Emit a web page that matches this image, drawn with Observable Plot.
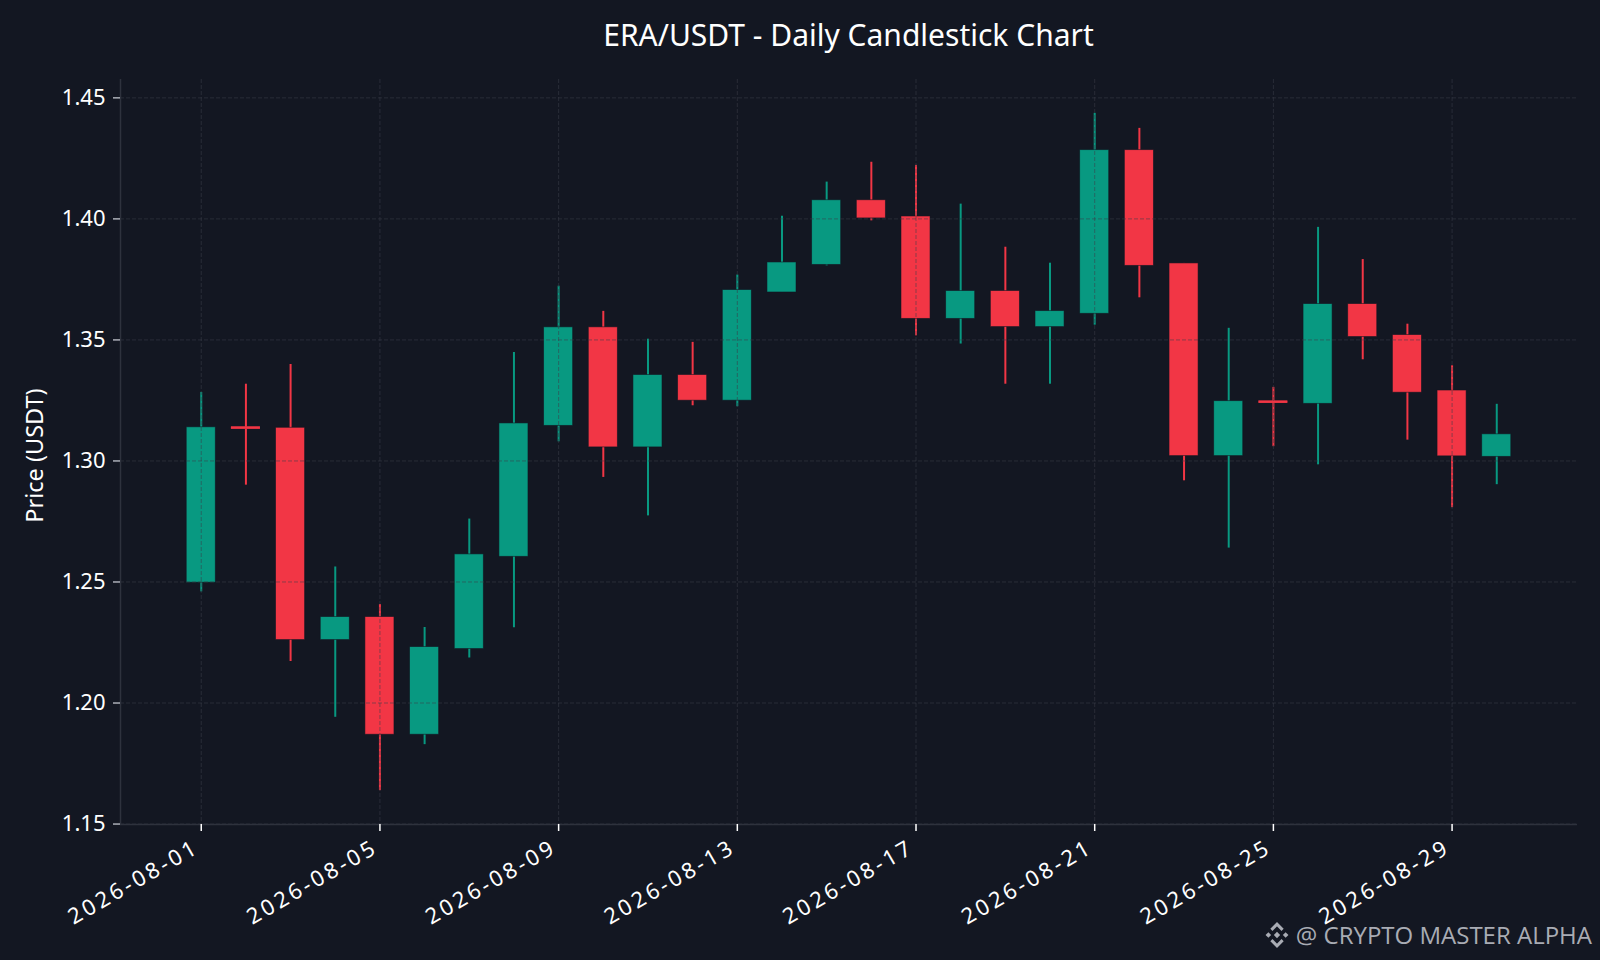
<!DOCTYPE html>
<html>
<head>
<meta charset="utf-8">
<script src="https://cdn.jsdelivr.net/npm/d3@7"></script>
<script src="https://cdn.jsdelivr.net/npm/@observablehq/plot@0.6"></script>
<style>
  html, body { margin: 0; padding: 0; background: #131722; }
  #wrap { position: relative; width: 1600px; height: 960px; background: #131722; overflow: hidden; font-family: "Noto Sans", sans-serif; }
  #title { position: absolute; left: 120px; width: 1457px; top: 0; height: 69px; line-height: 69px; text-align: center; color: #ffffff; font-size: 30px; }
  #chart { position: absolute; left: 0; top: 72px; }
  #wm { position: absolute; right: 8px; top: 921px; height: 28px; line-height: 1; font-family: "Open Sans", sans-serif; font-size: 24px; color: #a9acb4; display: flex; align-items: center; gap: 5px; white-space: nowrap; }
  #wm svg { display: block; }
  .xlab text { letter-spacing: 3.2px; }
</style>
</head>
<body>
<div id="wrap">
  <div id="title">ERA/USDT - Daily Candlestick Chart</div>
  <div id="chart"></div>
  <div id="wm">
    <svg width="28" height="28" viewBox="0 0 24 24">
      <g fill="#a9acb4">
        <polygon points="12,9.3 14.7,12 12,14.7 9.3,12"/>
        <polygon points="4.6,9.6 7,12 4.6,14.4 2.2,12"/>
        <polygon points="19.4,9.6 21.8,12 19.4,14.4 17,12"/>
      </g>
      <g fill="none" stroke="#a9acb4" stroke-width="2.6" stroke-linejoin="miter">
        <polyline points="7.2,7.6 12,2.8 16.8,7.6"/>
        <polyline points="7.2,16.4 12,21.2 16.8,16.4"/>
      </g>
    </svg>
    <span>@ CRYPTO MASTER ALPHA</span>
  </div>
</div>
<script>
// ---- data ----
const dates = ["2026-08-01","2026-08-02","2026-08-03","2026-08-04","2026-08-05","2026-08-06","2026-08-07","2026-08-08","2026-08-09","2026-08-10",
               "2026-08-11","2026-08-12","2026-08-13","2026-08-14","2026-08-15","2026-08-16","2026-08-17","2026-08-18","2026-08-19","2026-08-20",
               "2026-08-21","2026-08-22","2026-08-23","2026-08-24","2026-08-25","2026-08-26","2026-08-27","2026-08-28","2026-08-29","2026-08-30"];
const opens  = [1.2497, 1.3138, 1.3137, 1.2260, 1.2355, 1.1869, 1.2223, 1.2604, 1.3145, 1.3552,
                1.3056, 1.3355, 1.3249, 1.3696, 1.3810, 1.4077, 1.4010, 1.3587, 1.3702, 1.3553,
                1.3608, 1.4284, 1.3816, 1.3020, 1.3245, 1.3236, 1.3648, 1.3520, 1.3291, 1.3017];
const highs  = [1.3283, 1.3317, 1.3399, 1.2562, 1.2407, 1.2312, 1.2760, 1.3448, 1.3722, 1.3618,
                1.3503, 1.3490, 1.3768, 1.4011, 1.4152, 1.4234, 1.4221, 1.4061, 1.3883, 1.3817,
                1.4436, 1.4374, 1.3816, 1.3548, 1.3304, 1.3965, 1.3832, 1.3565, 1.3393, 1.3234];
const lows   = [1.2459, 1.2900, 1.2172, 1.1941, 1.1638, 1.1828, 1.2186, 1.2311, 1.3079, 1.2932,
                1.2773, 1.3228, 1.3224, 1.3696, 1.3806, 1.3992, 1.3517, 1.3483, 1.3317, 1.3317,
                1.3561, 1.3674, 1.2918, 1.2640, 1.3059, 1.2984, 1.3418, 1.3086, 1.2807, 1.2902];
const closes = [1.3139, 1.3132, 1.2260, 1.2355, 1.1869, 1.2231, 1.2614, 1.3155, 1.3552, 1.3056,
                1.3355, 1.3249, 1.3706, 1.3820, 1.4077, 1.4002, 1.3587, 1.3702, 1.3553, 1.3619,
                1.4284, 1.3806, 1.3020, 1.3247, 1.3241, 1.3648, 1.3512, 1.3282, 1.3019, 1.3110];
const xTickLabels = ["2026-08-01","2026-08-05","2026-08-09","2026-08-13","2026-08-17","2026-08-21","2026-08-25","2026-08-29"];
const yTicks = [1.15, 1.20, 1.25, 1.30, 1.35, 1.40, 1.45];

// ---- build ----
const DAY = 864e5;
const HALF = 0.325 * DAY;
const parse = s => new Date(s + "T00:00:00Z");
const data = dates.map((d, i) => ({date: parse(d), open: opens[i], high: highs[i], low: lows[i], close: closes[i]}));
const upData = data.filter(d => d.close >= d.open);
const downData = data.filter(d => d.close < d.open);
const dojis = data.filter(d => Math.abs(d.close - d.open) < 0.002);
const UP = "#089981", DOWN = "#f23645";

// matplotlib-like 5% margins around the data extent
const x0 = +data[0].date - HALF, x1 = +data[data.length - 1].date + HALF;
const xPad = 0.05 * (x1 - x0);
const yMin = d3.min(lows), yMax = d3.max(highs), yPad = 0.05 * (yMax - yMin);
const xDomain = [new Date(x0 - xPad), new Date(x1 + xPad)];
const yDomain = [yMin - yPad, yMax + yPad];
const xTicks = xTickLabels.map(parse);

const GRID = "#3a3e49";
const SPINE = "#2e323d";

const bodyOpts = (fill) => ({
  x1: d => new Date(+d.date - HALF),
  x2: d => new Date(+d.date + HALF),
  y1: "open", y2: "close",
  fill, stroke: "#131722", strokeOpacity: 0.7, strokeWidth: 0.8
});

const chart = Plot.plot({
  width: 1600,
  height: 888,
  marginTop: 7,
  marginBottom: 136,
  marginLeft: 120,
  marginRight: 23,
  style: {background: "transparent", color: "#ffffff", fontFamily: "'Noto Sans', sans-serif", fontSize: "22px"},
  x: {type: "utc", domain: xDomain, axis: null},
  y: {domain: yDomain, axis: null},
  marks: [
    // wicks
    Plot.ruleX(upData, {x: "date", y1: "low", y2: "high", stroke: UP, strokeWidth: 2}),
    Plot.ruleX(downData, {x: "date", y1: "low", y2: "high", stroke: DOWN, strokeWidth: 2}),
    // bodies
    Plot.rect(upData, bodyOpts(UP)),
    Plot.rect(downData, bodyOpts(DOWN)),
    Plot.ruleY(dojis, {x1: d => new Date(+d.date - HALF), x2: d => new Date(+d.date + HALF), y: "open",
      stroke: d => d.close >= d.open ? UP : DOWN, strokeWidth: 2.6}),
    // grid (drawn above candles, as in the reference)
    Plot.gridX(xTicks, {stroke: GRID, strokeOpacity: 0.55, strokeDasharray: "4,2", strokeWidth: 1}),
    Plot.gridY(yTicks, {stroke: GRID, strokeOpacity: 0.55, strokeDasharray: "4,2", strokeWidth: 1}),
    // spines
    Plot.ruleX([xDomain[0]], {stroke: SPINE, strokeWidth: 1.5}),
    Plot.ruleY([yDomain[0]], {stroke: SPINE, strokeWidth: 1.5}),
    // axes
    Plot.axisY(yTicks, {anchor: "left", tickFormat: d3.format(".2f"), tickSize: 7, tickPadding: 8,
      fontSize: 22, fill: "#ffffff", stroke: "#d1d4dc", strokeWidth: 1.2, label: null}),
    // x tick marks only
    Plot.axisX(xTicks, {anchor: "bottom", tickSize: 7, fill: "none", stroke: "#ffffff", strokeWidth: 1.5, label: null}),
    // x tick labels only
    Plot.axisX(xTicks, {anchor: "bottom", tickFormat: d3.utcFormat("%Y-%m-%d"), tickRotate: -30, tickSize: 0, tickPadding: 21,
      dx: -4, fontSize: 22, fill: "#ffffff", label: null, className: "xlab"}),
    // y label
    Plot.text(["Price (USDT)"], {frameAnchor: "left", textAnchor: "middle", dx: -85, dy: 3.5, rotate: -90, fontSize: 23.5, fill: "#ffffff"})
  ]
});
document.getElementById("chart").appendChild(chart);
</script>
</body>
</html>
